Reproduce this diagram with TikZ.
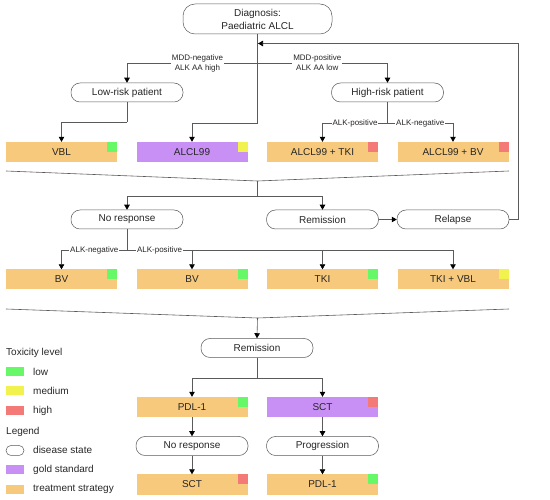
\documentclass[tikz,border=0pt]{standalone}
\usepackage{fontspec}
\setmainfont{Liberation Sans}
\usetikzlibrary{arrows.meta}

\definecolor{treatcol}{HTML}{F7C97C}
\definecolor{goldcol}{HTML}{C890F5}
\definecolor{tlow}{HTML}{66F866}
\definecolor{tmed}{HTML}{F2F24E}
\definecolor{thigh}{HTML}{F47A78}
\definecolor{linegray}{HTML}{5A5A5A}
\definecolor{textgray}{HTML}{262626}

\begin{document}
\begin{tikzpicture}[x=1pt,y=-1pt,
    every node/.style={text=textgray,font=\fontsize{10}{13}\selectfont},
    state/.style={draw=linegray,line width=0.5pt,fill=white,rounded corners=9pt,minimum width=112pt,minimum height=19pt,inner sep=0pt},
    treat/.style={fill=treatcol,minimum width=111pt,minimum height=20pt,inner sep=0pt},
    gold/.style={treat,fill=goldcol},
    line/.style={draw=linegray,line width=0.6pt},
    arr/.style={draw=linegray,line width=0.6pt,-{Triangle[length=5pt,width=5.5pt,color=black]}},
    cond/.style={fill=white,inner sep=1pt,font=\fontsize{8}{10}\selectfont}]
        \useasboundingbox (0,0) rectangle (550,500);

          % disease states
          \node[state,minimum width=149pt,minimum height=30pt,rounded corners=12pt,align=center] (diag) at (257.5,19) {Diagnosis:\\Paediatric ALCL};
          \node[state] (low) at (127,92.5) {Low-risk patient};
          \node[state] (high) at (387.5,92.5) {High-risk patient};
          \node[state] (noresp) at (127,219.5) {No response};
          \node[state] (remis) at (322.5,219.5) {Remission};
          \node[state] (relapse) at (453,219.5) {Relapse};
          \node[state] (remis2) at (257,348) {Remission};
          \node[state] (noresp2) at (192,446) {No response};
          \node[state] (prog) at (322.5,446) {Progression};

          % treatments
          \node[treat] (t1) at (61.5,152) {VBL};
          \node[gold] (t2) at (192,152) {ALCL99};
          \node[treat] (t3) at (322.5,152) {ALCL99 + TKI};
          \node[treat] (t4) at (453,152) {ALCL99 + BV};
          \node[treat] (t5) at (61.5,279.5) {BV};
          \node[treat] (t6) at (192,279.5) {BV};
          \node[treat] (t7) at (322.5,279.5) {TKI};
          \node[treat] (t8) at (453,279.5) {TKI + VBL};
          \node[treat] (t9) at (192,407) {PDL-1};
          \node[gold] (t10) at (322.5,407) {SCT};
          \node[treat] (t11) at (192,484.5) {SCT};
          \node[treat] (t12) at (322.5,484.5) {PDL-1};

          \foreach \n/\c in {t1/tlow,t2/tmed,t3/thigh,t4/thigh,t5/tlow,t6/tlow,t7/tlow,t8/tmed,t9/tlow,t10/thigh,t11/thigh,t12/tlow}{
            \fill[\c] ([xshift=-10pt]\n.north east) rectangle ([yshift=-10pt]\n.north east);
          }

          % junctions
          \coordinate (jd) at (257.5,123);
          \coordinate (jm) at (257.5,63);
          \coordinate (jl) at (127,122);
          \coordinate (jh) at (387.5,123);
          \coordinate (m1) at (257.5,181);
          \coordinate (jr) at (257.5,196);
          \coordinate (jn) at (127,250);
          \coordinate (m2) at (257.5,318);
          \coordinate (jr2) at (257,378);
          \coordinate (ret) at (518,43.5);
          \coordinate (retend) at (258,43.5);

          % first block
          \draw[line] (diag.south) -- (jd);
          \draw[arr] (jd) -| (t2.north);
          \draw[arr] (jm) -| (low.north) node[cond,pos=0.23,align=center] {MDD-negative\\ALK AA high};
          \draw[arr] (jm) -| (high.north) node[cond,pos=0.23,align=center] {MDD-positive\\ALK AA low};
          \draw[line] (low.south) -- (jl);
          \draw[arr] (jl) -| (t1.north);
          \draw[line] (high.south) -- (jh);
          \draw[arr] (jh) -| (t3.north) node[cond,pos=0.25] {ALK-positive};
          \draw[arr] (jh) -| (t4.north) node[cond,pos=0.25] {ALK-negative};

          % second block
          \draw[line] (6,171) -- (m1) -- (509,171);
          \draw[line] (m1) -- (jr);
          \draw[arr] (jr) -| (noresp.north);
          \draw[arr] (jr) -| (remis.north);
          \draw[arr] (remis) -- (relapse);
          \draw[arr] (relapse.east) -| (ret) -- (retend);
          \draw[line] (noresp.south) -- (jn);
          \draw[arr] (jn) -| (t7.north);
          \draw[arr] (jn) -| (t8.north);
          \draw[arr] (jn) -| (t5.north) node[cond,pos=0.25] {ALK-negative};
          \draw[arr] (jn) -| (t6.north) node[cond,pos=0.25] {ALK-positive};

          % third block
          \draw[line] (6,309) -- (m2) -- (509,309);
          \draw[arr] (m2) -- (remis2.north);
          \draw[line] (remis2.south) -- (jr2);
          \draw[arr] (jr2) -| (t9.north);
          \draw[arr] (jr2) -| (t10.north);
          \draw[arr] (t9) -- (noresp2);
          \draw[arr] (noresp2) -- (t11);
          \draw[arr] (t10) -- (prog);
          \draw[arr] (prog) -- (t12);

          % legend
          \node[anchor=west,inner sep=0pt] (toxtitle) at (6,353) {Toxicity level};
          \node[anchor=west,inner sep=0pt] (legtitle) at (6,432) {Legend};
          \foreach \c/\y/\txt in {tlow/372/low,tmed/391/medium,thigh/411/high,goldcol/470/gold standard,treatcol/489/treatment strategy}{
            \fill[\c] (6,\y-4.5) rectangle (24,\y+4.5);
            \node[anchor=west,inner sep=0pt] at (33,\y) {\txt};
          }
          \draw[linegray,line width=0.5pt,rounded corners=5pt] (6,445.5) rectangle (24,455.5);
          \node[anchor=west,inner sep=0pt] at (33,450) {disease state};
        \end{tikzpicture}
\end{document}
